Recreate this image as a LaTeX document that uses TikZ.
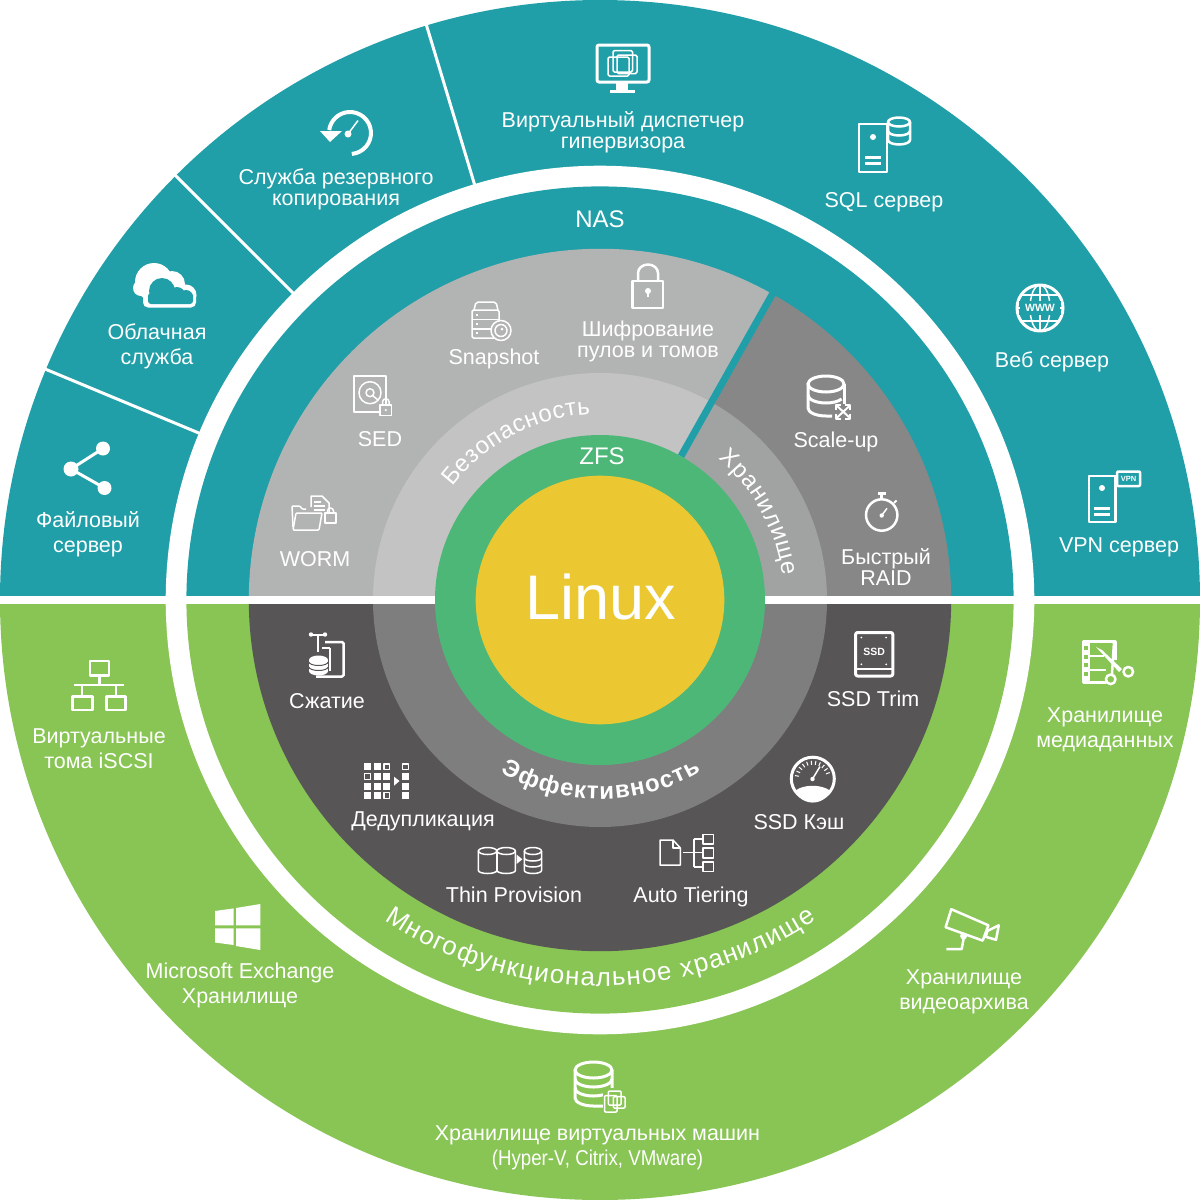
\documentclass[tikz,border=0pt]{standalone}
\usepackage{fontspec}
\setmainfont{Liberation Sans}
\usetikzlibrary{decorations.text}
\definecolor{tealband}{HTML}{209FA8}
\definecolor{greenband}{HTML}{88C554}
\definecolor{secgray}{HTML}{B2B4B3}
\definecolor{secgrayin}{HTML}{C3C3C3}
\definecolor{storgray}{HTML}{878787}
\definecolor{storgrayin}{HTML}{A1A3A2}
\definecolor{effdark}{HTML}{575556}
\definecolor{effdarkin}{HTML}{7E7E7E}
\definecolor{zfsgreen}{HTML}{4DB778}
\definecolor{linuxyellow}{HTML}{EBC832}
\newcommand{\piesec}[4]{\fill[#1] (0,0) -- (#2:#4) arc (#2:#3:#4) -- cycle;}
\tikzset{
  lbl/.style={text=white,align=center,inner sep=0pt,font=\fontsize{21.5}{25}\selectfont},
  lbltight/.style={text=white,align=center,inner sep=0pt,font=\fontsize{21.5}{21}\selectfont},
  icon/.style={draw=white,line width=2.5pt,line join=round},
  iconthin/.style={draw=white,line width=1.5pt,line join=round},
  polar/.style={shift={(600,600)},y=1pt}
}
\begin{document}
\begin{tikzpicture}[x=1pt,y=-1pt]
\useasboundingbox (0,0) rectangle (1200,1200);

% rings
\begin{scope}[polar]
\piesec{tealband}{0}{180}{600}
\piesec{greenband}{180}{360}{600}
\fill[white] (0,0) circle (434.3);
\piesec{tealband}{0}{180}{413.6}
\piesec{greenband}{180}{360}{413.6}
\piesec{secgray}{60.6}{180}{351.2}
\piesec{storgray}{0}{60.6}{351.2}
\piesec{effdark}{180}{360}{351.2}
\piesec{secgrayin}{60.6}{180}{227}
\piesec{storgrayin}{0}{60.6}{227}
\piesec{effdarkin}{180}{360}{227}
\draw[tealband,line width=7pt] (60.6:165) -- (60.6:352);
\foreach \a in {106.8,135,157.4}
  \draw[white,line width=3pt] (\a:433) -- (\a:602);
\end{scope}
\fill[white] (-1,596) rectangle (436,604);
\fill[white] (764,596) rectangle (1201,604);
\begin{scope}[polar]
\fill[zfsgreen] (0,0) circle (165);
\fill[linuxyellow] (0,0) circle (124.3);
\path[decorate,decoration={text along path,text align=fit to path,
  text={|\fontsize{24}{24}\selectfont\color{white}|Безопасность}}] (142.5:186) arc (142.5:93:186);
\path[decorate,decoration={text along path,text align=fit to path,
  text={|\fontsize{24}{24}\selectfont\color{white}|Хранилище}}] (50:184) arc (50:7.5:184);
\path[decorate,decoration={text along path,text align=fit to path,
  text={|\fontsize{24}{24}\selectfont\bfseries\color{white}|Эффективность}}] (240:199) arc (240:300.5:199);
\path[decorate,decoration={text along path,text align=fit to path,
  text={|\fontsize{26}{26}\selectfont\color{white}|Многофункциональное хранилище}}] (236:386) arc (236:304:386);
\end{scope}

% centre
\node[lbl,font=\fontsize{63}{63}\selectfont] (linux) at (601,597) {Linux};
\node[lbl,font=\fontsize{24}{24}\selectfont] (zfs) at (602,456) {ZFS};
\node[lbl,font=\fontsize{24}{24}\selectfont] (nas) at (600,219) {NAS};

% outer labels
\node[lbl] (fileSrv) at (88,534) {Файловый\\сервер};
\node[lbl] (cloudSrv) at (157,346) {Облачная\\служба};
\node[lbltight] (backupSrv) at (336,189) {Служба резервного\\копирования};
\node[lbltight] (hypervSrv) at (623,132) {Виртуальный диспетчер\\гипервизора};
\node[lbl] (sqlSrv) at (884,202) {SQL сервер};
\node[lbl] (webSrv) at (1052,362) {Веб сервер};
\node[lbl] (vpnSrv) at (1119,547) {VPN сервер};
\node[lbl] (iscsi) at (99,749) {Виртуальные\\тома iSCSI};
\node[lbl] (media) at (1105,730) {Хранилище\\медиаданных};
\node[lbl] (exch) at (240,985) {Microsoft Exchange\\Хранилище};
\node[lbl] (video) at (964,992) {Хранилище\\видеоархива};
\node[lbl] (vmstore) at (597.5,1148) {Хранилище виртуальных машин\\\addfontfeature{FakeStretch=0.87}(Hyper-V, Citrix, VMware)};

% inner labels
\node[lbl] (worm) at (315,559) {WORM};
\node[lbl] (sed) at (380,439) {SED};
\node[lbl] (snap) at (494,359) {Snapshot};
\node[lbltight] (crypt) at (648,341) {Шифрование\\пулов и томов};
\node[lbl] (scale) at (836,442) {Scale-up};
\node[lbltight] (raid) at (886,567) {Быстрый\\RAID};
\node[lbl] (comp) at (327,701) {Сжатие};
\node[lbl] (dedup) at (423,821) {Дедупликация};
\node[lbl] (thin) at (514,895) {Thin Provision};
\node[lbl] (tier) at (691,897) {Auto Tiering};
\node[lbl] (cache) at (799,822) {SSD Кэш};
\node[lbl] (trim) at (873,699) {SSD Trim};

% share
\draw[icon,line width=3pt] (103,448.5) -- (71,469) -- (104.5,488);
\fill[white] (103,448.5) circle (7) (71,469) circle (7.5) (104.5,488) circle (7);

% cloud
\fill[white] (154,282) circle (19) (141,288) circle (8) (172,284) circle (13) (186,295) circle (10.5);
\fill[white,rounded corners=5pt] (143,290) rectangle (196,307.5);
\fill[tealband] (162,291) circle (13) (177,295) circle (8) (186,297) circle (7);
\fill[tealband,rounded corners=3pt] (148,293) rectangle (193,304);

% backup
\draw[icon,line width=4pt] (350,133) ++(85:21) arc (85:-172:21);
\fill[white] (320,131) -- (342,131) -- (330,142) -- cycle;
\fill[white] (348,134) circle (3.5);
\draw[iconthin] (348,134) -- (358,120.5);

% hypervisor screen
\draw[icon,line width=3pt,rounded corners=2pt] (597,45) rectangle (649,82);
\fill[white] (616,82) rectangle (628,90);
\draw[icon,line width=3pt] (610,91) -- (635,91);
\draw[iconthin,rounded corners=1.5pt] (608,57) rectangle (629,76);
\draw[iconthin,rounded corners=1.5pt] (613,50.5) rectangle (632.5,72);
\draw[iconthin,rounded corners=1.5pt] (617,55) rectangle (637,73.5);

% sql
\draw[icon] (859,124) rectangle (887,172);
\fill[white] (873,137) circle (3);
\draw[icon,line width=3pt] (865,157) -- (881,157) (865,163) -- (881,163);
\draw[icon,fill=tealband] (888,122) -- (888,140) arc (180:0:11 and 4.5) -- (910,122);
\draw[icon,fill=tealband] (899,122) ellipse (11 and 4.5);
\draw[icon] (888,131) arc (180:0:11 and 4.5);

% web
\draw[icon,line width=3pt] (1040,308) circle (23);
\draw[icon,line width=1.5pt] (1040,308) ellipse (10 and 23);
\draw[icon,line width=1.5pt] (1040,285) -- (1040,331) (1021,295) -- (1059,295) (1021,321) -- (1059,321);
\fill[tealband] (1019,301) rectangle (1061,315);
\draw[icon,line width=2pt] (1017,308) -- (1020,308) (1060,308) -- (1063,308);
\node[text=white,inner sep=0pt,font=\fontsize{10.5}{10}\selectfont\bfseries] (www) at (1040,308) {WWW};

% vpn
\draw[icon] (1089,476) rectangle (1115.5,522);
\fill[white] (1102,488) circle (3);
\draw[icon,line width=3pt] (1094,508) -- (1110,508) (1094,514) -- (1110,514);
\draw[icon,fill=tealband,rounded corners=1pt] (1117,471.5) rectangle (1140,486);
\node[text=white,inner sep=0pt,font=\fontsize{7.5}{8}\selectfont\bfseries] (vpntag) at (1128.5,479) {VPN};

% lock
\draw[icon] (632.5,281) rectangle (663,308);
\draw[icon] (638,281) -- (638,273) arc (180:360:10 and 8.5) -- (658,281);
\fill[white] (648,291) circle (3);
\draw[icon] (648,291) -- (648,297);

% snapshot
\draw[iconthin,rounded corners=2pt] (474,310) -- (476,302) -- (496,302) -- (498,310);
\draw[iconthin,rounded corners=1.5pt] (472,310) rectangle (499,338);
\draw[iconthin] (472,319.5) -- (499,319.5) (472,329) -- (499,329);
\draw[iconthin] (476,315) -- (478,315) (476,324) -- (478,324) (476,333) -- (478,333);
\draw[iconthin,fill=secgray] (501,330.5) circle (10);
\draw[iconthin] (501,330.5) circle (6);
\fill[white] (502,329) circle (1.5);

% sed
\draw[iconthin] (354,376) rectangle (386,412);
\draw[iconthin] (370,392.7) circle (11);
\draw[iconthin] (370,392.7) circle (4);
\draw[iconthin] (372,395) -- (378,400);
\draw[iconthin,fill=secgray] (380,405) rectangle (391.7,415.7);
\draw[iconthin] (382.5,405) -- (382.5,402) arc (180:360:3.3 and 3.3) -- (389,405);
\fill[white] (385.8,410) circle (1.2);

% worm
\draw[iconthin,rounded corners=1pt] (293,527) -- (292,506) -- (300,506) -- (302,509) -- (306,509);
\draw[iconthin,fill=secgray,rounded corners=1pt] (293,530) -- (296,513) -- (322,513) -- (319,530) -- cycle;
\draw[iconthin] (311,507) -- (311,496) -- (322,496) -- (329,503) -- (329,512);
\draw[iconthin] (314,502) -- (321,502) (314,506) -- (325,506) (314,510) -- (325,510);
\draw[iconthin,fill=secgray] (325,513) rectangle (336,523);
\draw[iconthin] (327.5,513) -- (327.5,511) arc (180:360:3) -- (333.5,513);

% scale-up
\draw[icon,line width=3pt] (808,383) -- (808,408) arc (180:90:18 and 8) -- (832,416);
\draw[icon,line width=3pt] (826,384) ellipse (18 and 8);
\draw[icon,line width=3pt] (808,395) arc (180:30:18 and 8);
\draw[icon,line width=3pt] (844,384) -- (844,404);
\draw[icon,line width=2pt] (836.5,405.5) -- (850,418) (850,405.5) -- (836.5,418);
\draw[icon,line width=2pt] (836,410) -- (836,405) -- (841,405) (845,405) -- (850,405) -- (850,410)
  (836,414) -- (836,418.5) -- (841,418.5) (845,418.5) -- (850,418.5) -- (850,414);

% stopwatch
\draw[icon] (881.7,515) circle (15.7);
\draw[icon] (881.7,494) -- (881.7,499) (878,493.5) -- (885.5,493.5);
\draw[icon,line width=2pt] (894,503) -- (896.5,500.5);
\fill[white] (881.7,515.5) circle (2.2);
\draw[iconthin] (881.7,515.5) -- (887,508.3);

% compression
\draw[icon,rounded corners=1.5pt] (325,642) -- (343.7,642) -- (343.7,676.5) -- (316,676.5);
\draw[icon,line width=2pt] (330,648) -- (330,671) (322,648) -- (330,648);
\draw[icon,line width=2pt] (311,634.5) -- (325,634.5) (317.6,634.5) -- (317.6,652);
\fill[white] (311,634.5) circle (2.2) (325,634.5) circle (2.2);
\fill[white] (318.5,660) ellipse (9.5 and 4.5);
\fill[white] (309,660) rectangle (328,671);
\fill[white] (318.5,671) ellipse (9.5 and 4.5);
\draw[effdark,line width=1pt] (309,662) arc (180:0:9.5 and 3.5) (309,667) arc (180:0:9.5 and 3.5);

% dedup
\foreach \c/\r in {1/1,2/1,2/2,3/2,1/3,2/3,3/3,1/4,2/4}
  \fill[white] ({364+(\c-1)*9.65},{763.3+(\r-1)*9.65}) rectangle ++(7,7);
\foreach \c/\r in {3/1,1/2,3/4}
  \draw[iconthin,line width=1.2pt] ({364.6+(\c-1)*9.65},{763.9+(\r-1)*9.65}) rectangle ++(5.8,5.8);
\foreach \r in {2,3,4}
  \fill[white] (402,{763.3+(\r-1)*9.65}) rectangle ++(7.2,7);
\draw[iconthin,line width=1.2pt] (402.6,763.9) rectangle ++(6,5.8);
\fill[white] (394,776.7) -- (399.5,781) -- (394,785.7) -- cycle;

% thin provision
\foreach \x in {478.4,497}{
  \draw[iconthin] (\x,851) -- (\x,870.5) arc (180:0:9.2 and 3) -- ({\x+18.4},851);
  \draw[iconthin] ({\x+9.2},851) ellipse (9.2 and 3.5);
}
\fill[white] (516.6,854.5) -- (522.4,859.3) -- (516.6,864) -- cycle;
\draw[iconthin] (524.3,851) -- (524.3,870.5) arc (180:0:8.6 and 3) -- (541.5,851);
\draw[iconthin] (532.9,851) ellipse (8.6 and 3.5);
\draw[iconthin] (524.3,858) arc (180:0:8.6 and 3) (524.3,864) arc (180:0:8.6 and 3);

% tiering
\draw[iconthin] (660,840) -- (673,840) -- (680.4,848) -- (680.4,865) -- (660,865) -- cycle;
\draw[iconthin] (673,840) -- (673,848) -- (680.4,848);
\draw[iconthin] (683,852.6) -- (693.8,852.6) (693.8,839) -- (693.8,867)
  (693.8,839) -- (703,839) (693.8,852.6) -- (703,852.6) (693.8,867) -- (703,867);
\draw[iconthin] (703,834.6) rectangle (713.7,843.8);
\draw[iconthin] (703,848) rectangle (713.7,858);
\draw[iconthin] (703,862) rectangle (713.7,871.7);

% ssd cache
\draw[icon,line width=3pt] (812.8,778.7) circle (21.5);
\fill[white] (795,791) .. controls (803,784) and (822,784) .. (830.5,791) arc (24:156:19.5) -- cycle;
\foreach \a in {-170,-155,...,-10}
  \draw[iconthin,line width=1pt] (812.8,778.7) ++(\a:14) -- ++(\a:4);
\fill[white] (812.5,779) circle (2.2);
\draw[iconthin] (812.5,779) -- (820,766.5);

% ssd drive
\draw[icon,line width=3pt,rounded corners=2pt] (855.6,632.5) rectangle (892.8,676);
\draw[icon,line width=2pt] (856,669) -- (892,669);
\node[text=white,inner sep=0pt,font=\fontsize{10.5}{10}\selectfont\bfseries] (ssdtag) at (874.2,651.7) {SSD};
\fill[white] (861.4,637.5) circle (1) (886.2,637.5) circle (1) (861.4,664.3) circle (1) (886.2,664.3) circle (1);

% network
\draw[icon] (90,661) rectangle (109,675.4);
\draw[icon] (99.5,675.4) -- (99.5,685) (74,685) -- (124.4,685) (82,685) -- (82,696.4) (116,685) -- (116,696.4);
\draw[icon] (72.7,696.4) rectangle (92.6,710);
\draw[icon] (106.4,696.4) rectangle (125.5,710);

% windows
\fill[white] (215,911) -- (233.5,908.4) -- (233.5,925.3) -- (215,925.3) -- cycle;
\fill[white] (236,908) -- (260.3,904) -- (260.3,925.3) -- (236,925.3) -- cycle;
\fill[white] (215,928.3) -- (233.5,928.3) -- (233.5,945) -- (215,942.5) -- cycle;
\fill[white] (236,928.3) -- (260.3,928.3) -- (260.3,950) -- (236,946) -- cycle;

% media
\draw[icon,line width=3pt] (1115,660) -- (1115,641.5) -- (1083,641.5) -- (1083,682) -- (1106,682);
\fill[white] (1082,641) rectangle (1090,682);
\foreach \r in {646,654.5,663,671.5}
  \fill[greenband] (1084,\r) rectangle (1088,{\r+4});
\draw[icon,line width=2pt] (1090,656) -- (1104,656) (1090,670) -- (1106,670);
\fill[white] (1096,647) -- (1102,650) -- (1122,669) -- (1119,672) -- cycle;
\draw[icon,line width=2.5pt] (1114,642) -- (1112,674);
\draw[icon,line width=2.5pt] (1110.7,679.3) circle (4.8);
\draw[icon,line width=2.5pt] (1128.3,671.7) circle (4.8);

% camera
\draw[icon] (951.3,909.2) -- (988.4,925.3) -- (982.7,940.6) -- (945.6,927.2) -- cycle;
\draw[icon] (987.3,931) -- (998.8,925.3) -- (996,939.8) -- (985.8,936.8) -- cycle;
\fill[white] (963.6,936) circle (3.5);
\draw[icon] (963.6,938.7) -- (961.7,949) -- (946.3,949);

% vm storage
\draw[icon,line width=3pt] (575,1070) -- (575,1098) arc (180:90:18.5 and 8) -- (603,1106) (612,1070) -- (612,1089);
\draw[icon,line width=3pt] (593.5,1070) ellipse (18.5 and 8);
\draw[icon,line width=3pt] (575,1079) arc (180:0:18.5 and 8);
\draw[icon,line width=3pt] (575,1088) arc (180:55:18.5 and 8);
\fill[greenband] (603,1088) rectangle (626,1113);
\draw[iconthin,rounded corners=1pt] (608.4,1091) rectangle (621,1105);
\draw[iconthin,rounded corners=1pt] (604.5,1095.6) rectangle (617,1112);
\draw[iconthin,rounded corners=1pt] (613.4,1096.7) rectangle (625,1108);
\end{tikzpicture}
\end{document}
